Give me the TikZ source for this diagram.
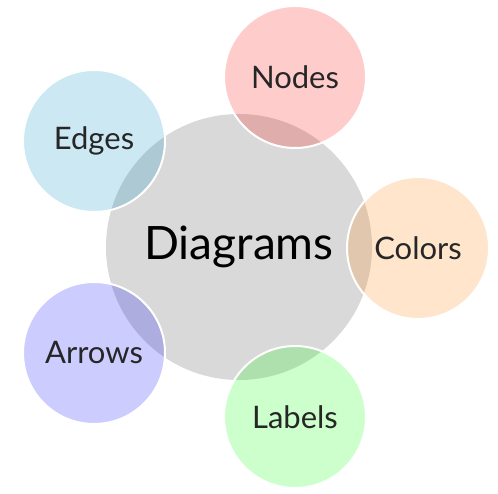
\documentclass[tikz,border=0pt]{standalone}
\usepackage{fontspec}
\setmainfont{Lato}
\begin{document}
\begin{tikzpicture}[x=1pt,y=-1pt,
  hub/.style={circle,fill=black!15,minimum size=266pt,inner sep=0pt,font=\fontsize{46}{50}\selectfont,text=black},
  sat/.style={circle,draw=white,line width=2pt,minimum size=142pt,inner sep=0pt,fill opacity=0.2,text opacity=1,font=\fontsize{31}{36}\selectfont,text=black!85},
]
\definecolor{edgeblue}{RGB}{0,140,190}
\useasboundingbox (0,0) rectangle (498,494);
\fill[white] (0,0) rectangle (498,494);
\node[hub] (hub) at (239,247) {Diagrams};
\node[sat,fill=red] (nodes) at (295,77) {Nodes};
\node[sat,fill=orange] (colors) at (418,248) {Colors};
\node[sat,fill=green] (labels) at (295,417) {Labels};
\node[sat,fill=blue] (arrows) at (94,353) {Arrows};
\node[sat,fill=edgeblue] (edges) at (94,141) {Edges};
\end{tikzpicture}
\end{document}
